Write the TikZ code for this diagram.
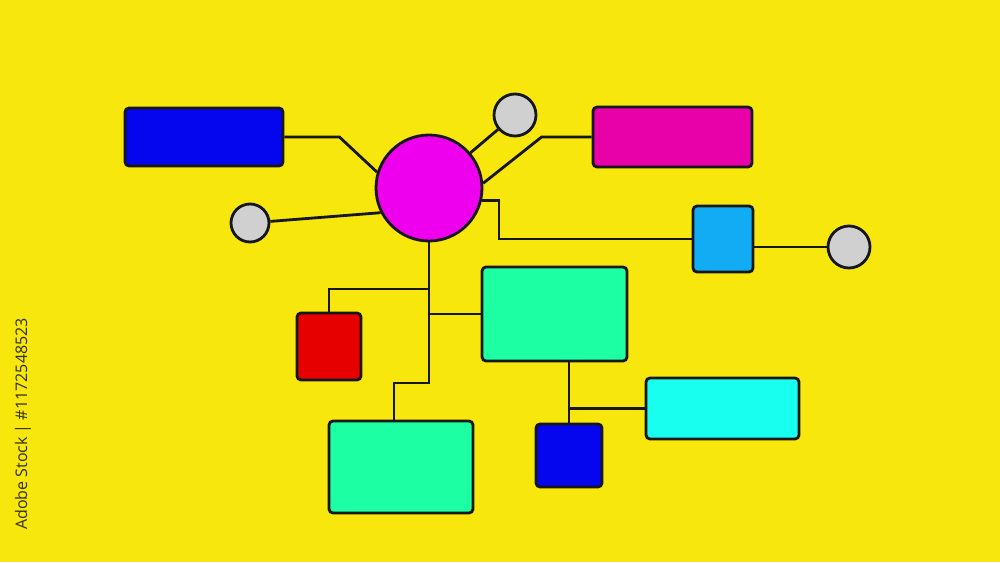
\documentclass[tikz,border=0pt]{standalone}
\usepackage{fontspec}
\newfontfamily\wmfont{Open Sans}
\definecolor{bgyellow}{RGB}{247,231,12}
\definecolor{cblue}{RGB}{6,6,238}
\definecolor{cmag}{RGB}{238,0,238}
\definecolor{cgray}{RGB}{208,208,208}
\definecolor{cpink}{RGB}{232,0,168}
\definecolor{clblue}{RGB}{18,172,245}
\definecolor{cred}{RGB}{230,0,0}
\definecolor{cgreen}{RGB}{28,255,162}
\definecolor{ccyan}{RGB}{24,255,240}
\definecolor{cline}{RGB}{22,22,22}
\definecolor{cwm}{RGB}{50,48,18}
\begin{document}
\begin{tikzpicture}[x=1pt,y=-1pt,
  box/.style={draw=cline,line width=2.8pt,rounded corners=4pt,inner sep=0pt},
  disc/.style={draw=cline,line width=2.8pt,circle,inner sep=0pt},
  link/.style={draw=cline,line width=2.8pt,line join=miter}]
\useasboundingbox (0,0) rectangle (1000,562);
\fill[bgyellow] (0,0) rectangle (1000,562);
% watermark id
\node[rotate=90,text=cwm,inner sep=0pt] (wm) at (23,424) {\wmfont\fontsize{16}{16}\selectfont Adobe Stock | \#1172548523};
% nodes
\node[disc,fill=cmag,minimum size=106pt] (hub) at (429,188) {};
\node[disc,fill=cgray,minimum size=42pt] (gTop) at (515,115) {};
\node[disc,fill=cgray,minimum size=38pt] (gLeft) at (250,223) {};
\node[disc,fill=cgray,minimum size=42pt] (gRight) at (849,247) {};
\node[box,fill=cblue,minimum width=158pt,minimum height=58pt] (blueL) at (204,137) {};
\node[box,fill=cpink,minimum width=159pt,minimum height=60pt] (pink) at (672.5,137) {};
\node[box,fill=clblue,minimum width=60pt,minimum height=66pt] (lb) at (723,239) {};
\node[box,fill=cred,minimum width=64pt,minimum height=67pt] (red) at (329,346.5) {};
\node[box,fill=cgreen,minimum width=145pt,minimum height=94pt] (greenTop) at (554.5,314) {};
\node[box,fill=cgreen,minimum width=144pt,minimum height=92pt] (greenBot) at (401,467) {};
\node[box,fill=cblue,minimum width=66pt,minimum height=63pt] (blueB) at (569,455.5) {};
\node[box,fill=ccyan,minimum width=153pt,minimum height=61pt] (cyan) at (722.5,408.5) {};
% connectors
\draw[link] (blueL.east) -- ++(55,0) -- (hub.163);
\draw[link] (gLeft) -- (hub.207);
\draw[link] (gTop) -- (hub);
\draw[link] (pink.west) -- ++(-50,0) -- (hub.5);
\draw[link] (hub.-13) -- ++(17,0) |- (lb.west);
\draw[link] (lb.east |- gRight) -- (gRight);
\coordinate (j1) at (429,289);
\coordinate (j3) at (394,383);
\draw[link] (hub.south) |- (j3) -- (j3 |- greenBot.north);
\draw[link] (j1) -| (red.north);
\draw[link] (hub.south |- greenTop.west) -- (greenTop.west);
\draw[link] (greenTop.south -| blueB.north) -- (blueB.north);
\draw[link] (blueB.north |- cyan.west) -- (cyan.west);
\end{tikzpicture}
\end{document}
